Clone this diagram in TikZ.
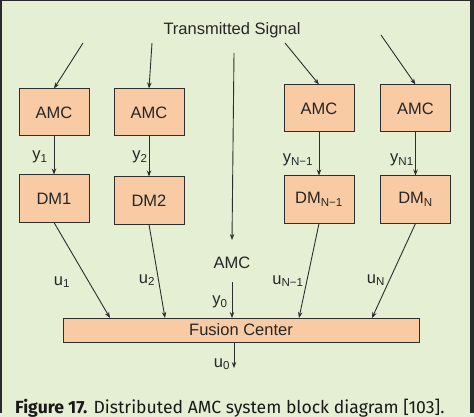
\documentclass[tikz,border=0pt]{standalone}
\usepackage{fontspec}
\setmainfont{Liberation Sans}
\newfontfamily\capfont{Fira Sans}
\usetikzlibrary{arrows.meta,calc}
\definecolor{bgc}{HTML}{E5EFD3}
\definecolor{boxc}{HTML}{F9CBA5}
\definecolor{linec}{HTML}{2E2E2E}
\definecolor{framec}{HTML}{2A2A2A}
\begin{document}
\begin{tikzpicture}[x=1pt,y=-1pt,
  blk/.style={draw=linec,line width=1pt,fill=boxc,minimum width=70pt,minimum height=47pt,inner sep=0pt,font=\fontsize{16.5}{18}\selectfont,text=black!85},
  lbl/.style={font=\fontsize{16.5}{18}\selectfont,text=black!85,inner sep=0pt},
  arr/.style={draw=linec,line width=0.9pt,-{Stealth[length=6pt,width=4.5pt]}}]
\useasboundingbox (0,0) rectangle (474,417);
\fill[bgc] (0,0) rectangle (474,417);
\fill[framec] (0,0) rectangle (2,413);
\fill[framec] (0,0) rectangle (474,1.5);
\fill[framec] (469.5,0) rectangle (474,413);

\node[lbl] (ts) at (232,30) {Transmitted Signal};

\node[blk] (a1) at (54,112.5) {AMC};
\node[blk] (a2) at (149,112.5) {AMC};
\node[blk] (a3) at (319,108.5) {AMC};
\node[blk] (a4) at (415.5,108.5) {AMC};

\node[blk] (d1) at (54,198.5) {DM1};
\node[blk] (d2) at (149,200.5) {DM2};
\node[blk] (d3) at (319,199.5) {DM\textsubscript{N−1}};
\node[blk] (d4) at (415.5,199.5) {DM\textsubscript{N}};

\node[blk,minimum width=356pt,minimum height=24pt] (fc) at (241,330) {Fusion Center};
\node[lbl] (mamc) at (232,263) {AMC};

\coordinate (s1) at (83,43);
\coordinate (s2) at (152,43);
\coordinate (s3) at (285,43);
\coordinate (s4) at (381,35);
\coordinate (sm) at (234,53);
\coordinate (em) at (232,240);
\coordinate (f1) at (110,318);
\coordinate (f2) at (165,318);
\coordinate (f0) at (232,318);
\coordinate (f3) at (299,318);
\coordinate (f4) at (372,318);
\coordinate (o0) at (234,368);

\draw[arr] (s1) -- (a1.north);
\draw[arr] (s2) -- (a2.north);
\draw[arr] (s3) -- (a3.north);
\draw[arr] (s4) -- (a4.north);
\draw[arr] (sm) -- (em);

\draw[arr] (a1) -- (d1);
\draw[arr] (a2) -- (d2);
\draw[arr] (a3) -- (d3);
\draw[arr] (a4) -- (d4);

\draw[arr] (d1.south) -- (f1);
\draw[arr] (d2.south) -- (f2);
\draw[arr] (d3.south) -- (f3);
\draw[arr] (d4.south) -- (f4);
\draw[arr] ($(mamc.south)+(0,13)$) -- (f0);
\draw[arr] (fc.south -| o0) -- (o0);

\node[lbl] at (40,157) {y\textsubscript{1}};
\node[lbl] at (140,157) {y\textsubscript{2}};
\node[lbl] at (298,160) {y\textsubscript{N−1}};
\node[lbl] at (402,160) {y\textsubscript{N1}};
\node[lbl] at (62,282) {u\textsubscript{1}};
\node[lbl] at (147,280) {u\textsubscript{2}};
\node[lbl] at (288,281) {u\textsubscript{N−1}};
\node[lbl] at (376,280) {u\textsubscript{N}};
\node[lbl] at (220,302) {y\textsubscript{0}};
\node[lbl] at (222,364) {u\textsubscript{0}};

\node[inner sep=0pt,anchor=west,font=\capfont\fontsize{17.6}{20}\selectfont,text=black!90] (cap) at (15,408) {\textbf{Figure 17.} Distributed AMC system block diagram [103].};
\end{tikzpicture}
\end{document}
